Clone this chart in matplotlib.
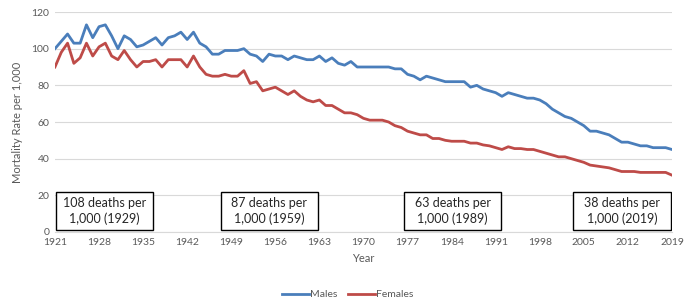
import matplotlib.pyplot as plt
from matplotlib.patches import Rectangle

plt.rcParams['font.family'] = ['Lato', 'DejaVu Sans']

years = list(range(1921, 2020))

males = [100, 104, 108, 103, 103, 113, 106, 112, 113, 107,
         100, 107, 105, 101, 102, 104, 106, 102, 106, 107,
         109, 105, 109, 103, 101, 97, 97, 99, 99, 99,
         100, 97, 96, 93, 97, 96, 96, 94, 96, 95,
         94, 94, 96, 93, 95, 92, 91, 93, 90, 90,
         90, 90, 90, 90, 89, 89, 86, 85, 83, 85,
         84, 83, 82, 82, 82, 82, 79, 80, 78, 77,
         76, 74, 76, 75, 74, 73, 73, 72, 70, 67,
         65, 63, 62, 60, 58, 55, 55, 54, 53, 51,
         49, 49, 48, 47, 47, 46, 46, 46, 45]

females = [90, 98, 103, 92, 95, 103, 96, 101, 103, 96,
           94, 99, 94, 90, 93, 93, 94, 90, 94, 94,
           94, 90, 96, 90, 86, 85, 85, 86, 85, 85,
           88, 81, 82, 77, 78, 79, 77, 75, 77, 74,
           72, 71, 72, 69, 69, 67, 65, 65, 64, 62,
           61, 61, 61, 60, 58, 57, 55, 54, 53, 53,
           51, 51, 50, 49.5, 49.5, 49.5, 48.5, 48.5, 47.5, 47,
           46, 45, 46.5, 45.5, 45.5, 45, 45, 44, 43, 42,
           41, 41, 40, 39, 38, 36.5, 36, 35.5, 35, 34,
           33, 33, 33, 32.5, 32.5, 32.5, 32.5, 32.5, 31]

xticks = list(range(1921, 2020, 7))
yticks = [0, 20, 40, 60, 80, 100, 120]

notes = ["108 deaths per\n1,000 (1929)", "87 deaths per\n1,000 (1959)",
         "63 deaths per\n1,000 (1989)", "38 deaths per\n1,000 (2019)"]
# box extents in axes fraction
note_boxes = [(0.002, 0.159), (0.269, 0.426), (0.566, 0.723), (0.840, 0.998)]

grey = '#595959'

fig = plt.figure(figsize=(6.88, 3.07), dpi=100)
ax = fig.add_axes([0.0799, 0.2443, 0.8968, 0.7166])

ax.plot(years, males, color='#4a7ebb', lw=2.0, label='Males')
ax.plot(years, females, color='#be4b48', lw=2.0, label='Females')

ax.set_xlim(1921, 2019)
ax.set_ylim(0, 120)
ax.set_xticks(xticks)
ax.set_yticks(yticks)
ax.tick_params(axis='both', length=0, labelsize=7.5, colors=grey, pad=4)
ax.grid(axis='y', color='#d9d9d9', lw=0.8)
ax.set_axisbelow(True)
for s in ['top', 'right', 'left']:
    ax.spines[s].set_visible(False)
ax.spines['bottom'].set_color('#d9d9d9')

ax.set_xlabel('Year', fontsize=8, color=grey, labelpad=5)
ax.set_ylabel('Mortality Rate per 1,000', fontsize=8, color=grey, labelpad=6)

for text, (x0, x1) in zip(notes, note_boxes):
    ax.add_patch(Rectangle((x0, 0.009), x1 - x0, 0.173, transform=ax.transAxes,
                           facecolor='white', edgecolor='black', lw=1.0, zorder=3))
    ax.text((x0 + x1) / 2, 0.0955, text, transform=ax.transAxes, ha='center',
            va='center', fontsize=9, color='#262626', zorder=4, linespacing=1.35)

fig.legend(loc='center', bbox_to_anchor=(0.505, 0.04), ncol=2, frameon=False,
           fontsize=7.5, handlelength=2.6, columnspacing=1.0, handletextpad=0.1,
           labelcolor=grey)

fig.savefig('out.png', dpi=100)
